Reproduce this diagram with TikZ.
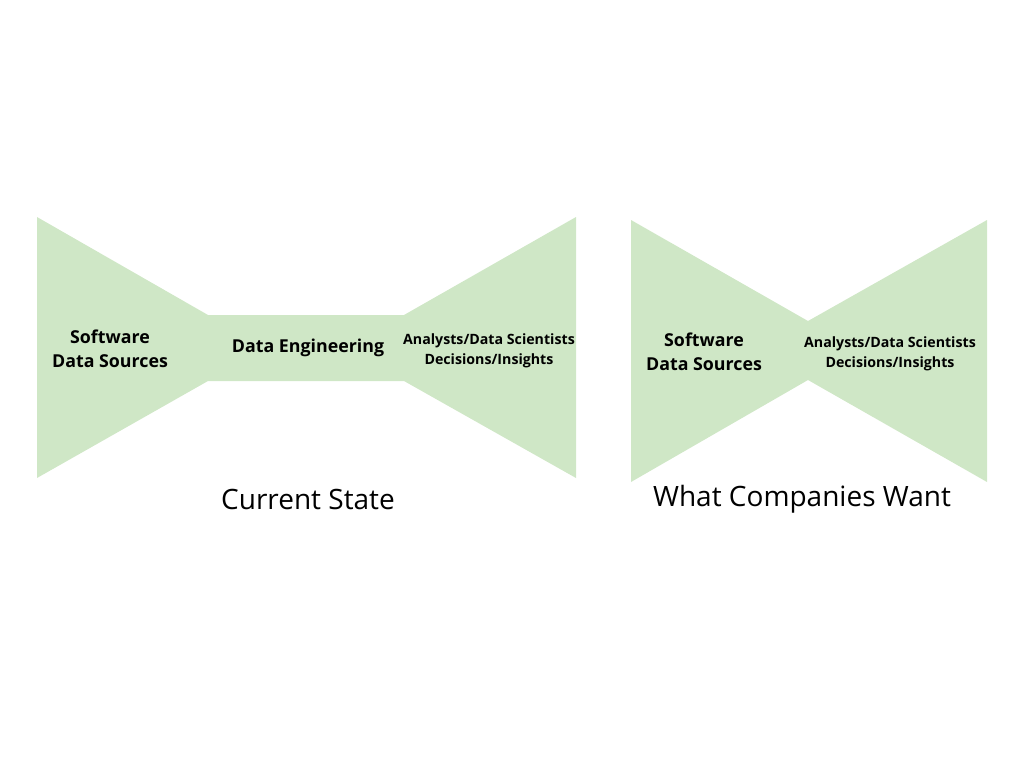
\documentclass[tikz,border=0pt]{standalone}
\usepackage{fontspec}
\setmainfont{Open Sans}
\usepackage{xcolor}
\definecolor{bowgreen}{HTML}{CFE7C6}
\begin{document}
\begin{tikzpicture}[x=1pt, y=-1pt]
    \tikzset{label/.style={font=\bfseries\fontsize{17.8}{24.5}\selectfont, align=center, inner sep=0pt},
             small/.style={font=\bfseries\fontsize{14.2}{20.5}\selectfont, align=center, inner sep=0pt},
             caption/.style={font=\fontsize{28}{32}\selectfont, inner sep=0pt}}
    \useasboundingbox (0,0) rectangle (1024,768);

    % current state
    \fill[bowgreen] (37,217) -- (208,315) -- (404,315) -- (576,217) -- (576,478)
        -- (404,381) -- (208,381) -- (37,478) -- cycle;
    \node[label]   (src)  at (110,349) {Software\\Data Sources};
    \node[label]   (eng)  at (308,348) {Data Engineering};
    \node[small]   (ana)  at (489,351) {Analysts/Data Scientists\\Decisions/Insights};
    \node[caption] (cur)  at (308,499) {Current State};

    % what companies want
    \fill[bowgreen] (631,220) -- (808,321) -- (987,220) -- (987,482)
        -- (808,380) -- (631,482) -- cycle;
    \node[label]   (src2) at (704,352) {Software\\Data Sources};
    \node[small]   (ana2) at (890,354) {Analysts/Data Scientists\\Decisions/Insights};
    \node[caption] (want) at (802,499) {What Companies Want};
\end{tikzpicture}
\end{document}
